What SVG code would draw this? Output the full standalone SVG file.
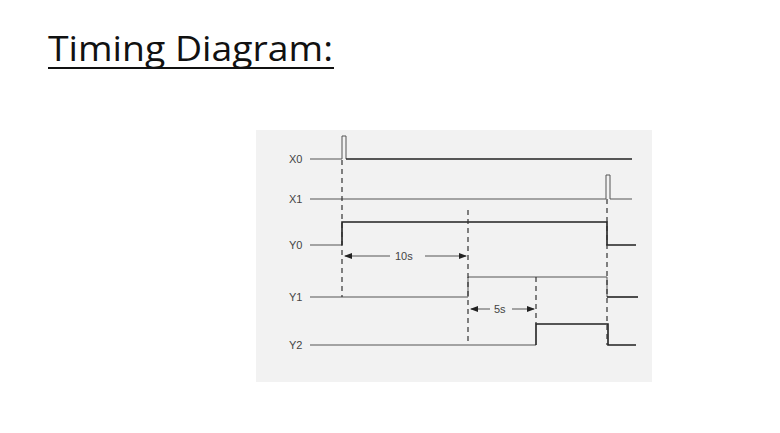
<svg xmlns="http://www.w3.org/2000/svg" width="780" height="433" viewBox="0 0 780 433">
<style>
.s{stroke:#222;fill:none;stroke-width:1.6}
.t{stroke:#555;fill:none;stroke-width:1}
.d{stroke:#333;fill:none;stroke-width:1.2;stroke-dasharray:5,4}
.l{font-family:"Liberation Sans",Arial,sans-serif;font-size:11px;fill:#444}
</style>
<defs><marker id="a" markerWidth="8" markerHeight="6" refX="7" refY="3" orient="auto-start-reverse"><path d="M0,0L8,3L0,6z" fill="#222"/></marker></defs>
<rect width="780" height="433" fill="#fff"/>
<text x="48" y="61" font-family="Open Sans,Liberation Sans,sans-serif" font-size="35" fill="#111" textLength="285" lengthAdjust="spacingAndGlyphs">Timing Diagram:</text>
<line x1="48" y1="68" x2="334" y2="68" stroke="#111" stroke-width="2"/>
<rect x="256" y="130" width="396" height="252" fill="#f2f2f2"/>
<g id="labels">
<text class="l" x="289" y="163">X0</text><text class="l" x="289" y="203">X1</text>
<text class="l" x="289" y="249">Y0</text><text class="l" x="289" y="301">Y1</text><text class="l" x="289" y="349">Y2</text>
</g>
<g id="signals">
<path class="t" d="M310,159H342V136H346V159"/><path class="s" d="M346,159H632"/>
<path class="t" d="M310,199H606V175H610V199H632"/>
<path class="t" d="M310,245H342"/><path class="s" d="M342,245V222H607V245H636"/>
<path class="t" d="M310,297H468V277H607V297"/><path class="s" d="M607,297H638"/>
<path class="t" d="M310,345H536"/><path class="s" d="M536,345V324H608V345H636"/>
</g>
<g id="connectors">
<path class="d" d="M342,160V297M468,210V345M536,277V324M607,199V345"/>
<line x1="345" y1="256" x2="390" y2="256" class="t" marker-start="url(#a)"/>
<line x1="425" y1="256" x2="466" y2="256" class="t" marker-end="url(#a)"/>
<text class="l" x="395" y="260">10s</text>
<line x1="471" y1="309" x2="490" y2="309" class="t" marker-start="url(#a)"/>
<line x1="512" y1="309" x2="534" y2="309" class="t" marker-end="url(#a)"/>
<text class="l" x="494" y="313">5s</text>
</g>
</svg>
